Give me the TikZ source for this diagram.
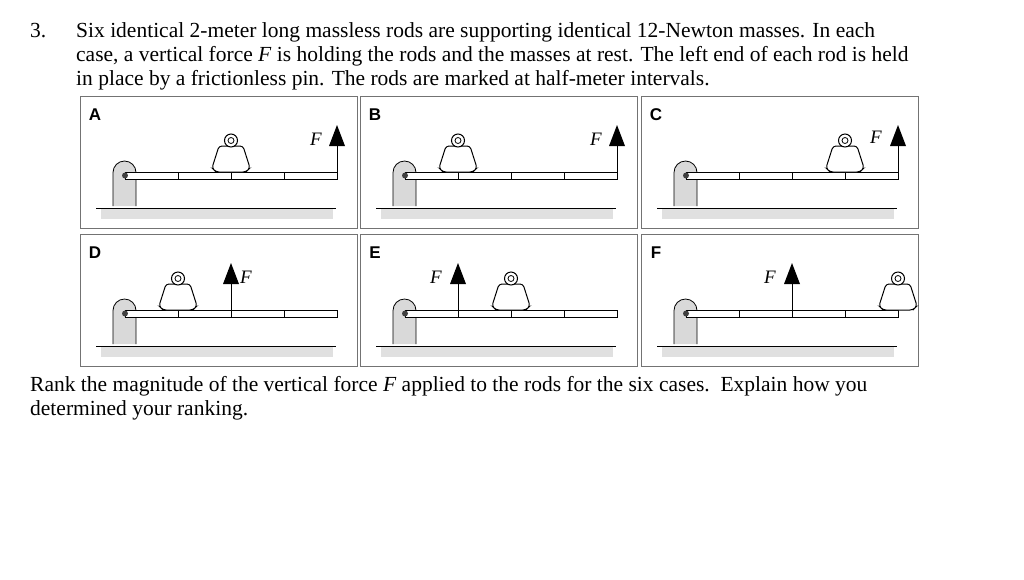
\documentclass[tikz,border=0pt]{standalone}
\usepackage{fontspec}
\setmainfont{Liberation Serif}
\newfontfamily\lsans{Liberation Sans}
\begin{document}
\begin{tikzpicture}[x=1pt,y=-1pt,
  txt/.style={anchor=base west,inner sep=0pt,font=\fontsize{21.5}{24}\selectfont},
  box/.style={draw=black!55,line width=1pt},
  lab/.style={font=\lsans\bfseries\fontsize{17}{17}\selectfont,inner sep=0pt},
  fl/.style={font=\itshape\fontsize{19}{19}\selectfont,inner sep=0pt},
  thin/.style={line width=0.8pt}]
\useasboundingbox (0,0) rectangle (1024,579);
\newcommand\mypanel[7]{%
 \begin{scope}[shift={(#1,#2)}]
  \draw[box] (0,0) rectangle (277,132);
  \node[lab] (L#3) at (15,19) {#3};
  \fill[black!12] (21,113) rectangle (253,123);
  \draw[thin] (16,112) -- (256,112);
  \draw[thin,fill=black!15] (33,110) -- (33,76.5) arc (180:360:11.5) -- (56,110);
  \draw[thin,fill=white] (45,76) rectangle (257,83);
  \foreach \k in {1,2,3} \draw[thin] (45+53*\k,76) -- (45+53*\k,83);
  \fill[black!75] (45,79.5) circle (3);
  % mass
  \begin{scope}[shift={(45+106*#4,0)}]
   \draw[line width=1pt,fill=white,rounded corners=3pt] (-15,76) -- (-19,72) -- (-12,50) -- (12,50) -- (19,72) -- (15,76) -- cycle;
   \draw[line width=1pt,fill=white] (0,44.5) circle (6.5);
   \draw[thin] (0,44.5) circle (3);
  \end{scope}
  % force
  \begin{scope}[shift={(45+106*#5,0)}]
   \draw[line width=1pt] (0,76) -- (0,48);
   \fill (0,29) -- (8,50) -- (-8,50) -- cycle;
   \node[fl] (F#3) at (#6,#7) {F};
  \end{scope}
 \end{scope}}
\node[txt] (n3) at (30,37) {3.};
\node[txt] (l1) at (76,37) {Six identical 2-meter long massless rods are supporting identical 12-Newton masses. In each};
\node[txt] (l2) at (76,61) {case, a vertical force \textit{F} is holding the rods and the masses at rest. The left end of each rod is held};
\node[txt] (l3) at (76,85) {in place by a frictionless pin. The rods are marked at half-meter intervals.};
\mypanel{80}{96}{A}{1}{2}{-21}{43}
\mypanel{360}{96}{B}{0.5}{2}{-21}{43}
\mypanel{641}{96}{C}{1.5}{2}{-22}{41}
\mypanel{80}{234}{D}{0.5}{1}{15}{43}
\mypanel{360}{234}{E}{1}{0.5}{-22}{43}
\mypanel{641}{234}{F}{2}{1}{-22}{43}
\node[txt] (r1) at (30,391) {Rank the magnitude of the vertical force \textit{F} applied to the rods for the six cases.\ \ Explain how you};
\node[txt] (r2) at (30,415) {determined your ranking.};
\end{tikzpicture}
\end{document}
